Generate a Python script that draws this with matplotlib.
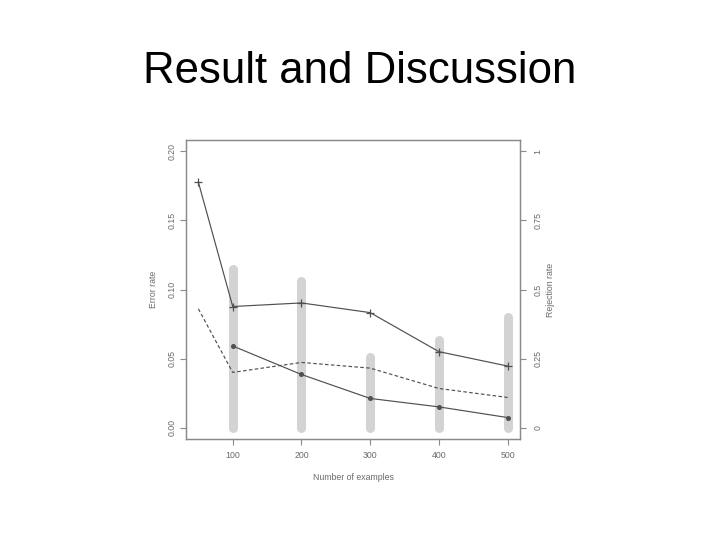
import matplotlib
matplotlib.use("Agg")
import matplotlib.pyplot as plt

plt.rcParams['font.family'] = ['Liberation Sans', 'DejaVu Sans']

# Data
examples_plus = [50, 100, 200, 300, 400, 500]
error_plus = [0.1775, 0.0877, 0.0903, 0.0833, 0.0551, 0.0447]

examples_dot = [100, 200, 300, 400, 500]
error_dot = [0.0592, 0.0386, 0.0213, 0.0152, 0.0075]

examples_dash = [50, 100, 200, 300, 400, 500]
error_dash = [0.086, 0.0401, 0.0473, 0.0432, 0.0285, 0.022]

examples_bar = [100, 200, 300, 400, 500]
rejection_rate = [0.574, 0.531, 0.255, 0.318, 0.402]

x_ticks = [100, 200, 300, 400, 500]
left_ticks = [0.00, 0.05, 0.10, 0.15, 0.20]
left_labels = ["0.00", "0.05", "0.10", "0.15", "0.20"]
right_ticks = [0, 0.25, 0.5, 0.75, 1]
right_labels = ["0", "0.25", "0.5", "0.75", "1"]

fig = plt.figure(figsize=(7.2, 5.4), dpi=100)
fig.text(0.4993, 1 - 83.3 / 540, "Result and Discussion", ha='center', va='baseline',
         fontsize=31.5, color='black')

ax = fig.add_axes([186 / 720, 1 - 439 / 540, 334 / 720, 299 / 540])
ax2 = ax.twinx()

txt = '#6a6a6a'
spine_c = '#8a8a8a'

# Rejection rate bars (right axis)
for xv, rv in zip(examples_bar, rejection_rate):
    ax2.plot([xv, xv], [0, rv], color='#d3d3d3', lw=6.5, solid_capstyle='round', zorder=1)

ax2.set_ylim(-0.04, 1.04)
ax.set_ylim(-0.008, 0.208)
ax.set_xlim(32, 518)

ax.set_zorder(ax2.get_zorder() + 1)
ax.patch.set_visible(False)

line_c = '#505050'
ax.plot(examples_plus, error_plus, color=line_c, lw=0.85, marker='+', ms=6, mew=0.9)
ax.plot(examples_dot, error_dot, color=line_c, lw=0.85, marker='o', ms=2.6)
ax.plot(examples_dash, error_dash, color=line_c, lw=0.85, ls=(0, (3, 2)))

ax.set_xticks(x_ticks)
ax.set_xticklabels([str(v) for v in x_ticks])
ax.set_yticks(left_ticks)
ax.set_yticklabels(left_labels, rotation=90, va='center')
ax2.set_yticks(right_ticks)
ax2.set_yticklabels(right_labels, rotation=90, va='center')

for a in (ax, ax2):
    a.tick_params(colors=spine_c, labelcolor=txt, labelsize=6.3, length=4, width=0.8, pad=2.5)
ax.tick_params(axis='x', pad=5)
ax2.tick_params(axis='y', pad=5.5)
for a in (ax, ax2):
    for s in a.spines.values():
        s.set_color(spine_c)
        s.set_linewidth(0.9)

ax.set_xlabel("Number of examples", fontsize=6.3, color=txt, labelpad=9)
ax.set_ylabel("Error rate", fontsize=6.3, color=txt, labelpad=7)
ax2.set_ylabel("Rejection rate", fontsize=6.3, color=txt, labelpad=3)

fig.savefig("out.png", dpi=100)
